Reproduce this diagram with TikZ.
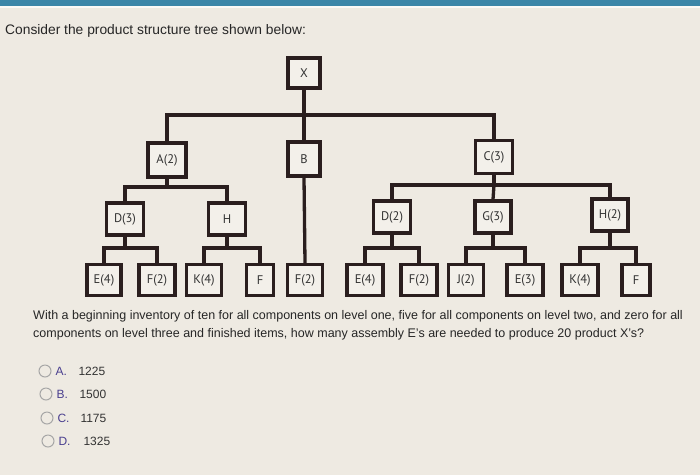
\documentclass[tikz,border=0pt]{standalone}
\usepackage{fontspec}
\setmainfont{Liberation Sans}
\newfontfamily\boxfont{PT Sans}
\begin{document}
\begin{tikzpicture}[x=1pt,y=-1pt,
  part/.style={draw=boxline,line width=3.2pt,fill=boxfill,inner sep=0pt,minimum height=31pt,font=\boxfont\fontsize{12.5}{14}\selectfont,text=black!80},
  link/.style={draw=boxline,line width=3.3pt,line join=miter},
  opt/.style={circle,draw=gray!70,line width=1pt,minimum size=12pt,inner sep=0pt},
  letter/.style={anchor=west,text=optblue,font=\fontsize{12}{14}\selectfont},
  num/.style={anchor=west,text=black!80,font=\fontsize{12}{14}\selectfont},
  txt/.style={anchor=west,text=black!85,inner sep=0pt}]
\definecolor{bg}{HTML}{EEEAE2}
\definecolor{topbar}{HTML}{3B86A8}
\definecolor{boxline}{HTML}{2A1E1E}
\definecolor{boxfill}{HTML}{F3F0EA}
\definecolor{optblue}{HTML}{4A3F8F}
\useasboundingbox (0,0) rectangle (700,475);
\fill[bg] (0,0) rectangle (700,475);
\fill[topbar] (0,0) rectangle (700,6);
\fill[white!70!bg] (0,6) rectangle (700,8);

\node[txt,font=\fontsize{13.8}{16}\selectfont] (title) at (5,31) {Consider the product structure tree shown below:};

% level 0
\node[part,minimum width=32pt,minimum height=30pt] (X) at (304,73) {X};
% level 1
\node[part,minimum width=38pt,minimum height=34pt] (A2) at (167,160) {A(2)};
\node[part,minimum width=32pt,minimum height=34pt] (B) at (304,159) {B};
\node[part,minimum width=37pt,minimum height=33pt] (C3) at (494,157) {C(3)};
% level 2
\node[part,minimum width=37pt,minimum height=32pt] (D3) at (125,219) {D(3)};
\node[part,minimum width=37pt,minimum height=32pt] (H) at (227,219) {H};
\node[part,minimum width=37pt,minimum height=32pt] (D2) at (392,217) {D(2)};
\node[part,minimum width=36pt,minimum height=32pt] (G3) at (493,217) {G(3)};
\node[part,minimum width=36pt,minimum height=32pt] (H2) at (610,215) {H(2)};
% level 3
\node[part,minimum width=34pt] (E4a) at (104,280) {E(4)};
\node[part,minimum width=36pt] (F2a) at (157,280) {F(2)};
\node[part,minimum width=35pt] (K4a) at (204,280) {K(4)};
\node[part,minimum width=27pt] (Fa) at (260,280) {F};
\node[part,minimum width=35pt] (F2b) at (305,280) {F(2)};
\node[part,minimum width=36pt] (E4b) at (365,280) {E(4)};
\node[part,minimum width=36pt] (F2c) at (419,280) {F(2)};
\node[part,minimum width=35pt] (J2) at (466,280) {J(2)};
\node[part,minimum width=36pt] (E3) at (525,280) {E(3)};
\node[part,minimum width=36pt] (K4b) at (580,280) {K(4)};
\node[part,minimum width=28pt] (Fb) at (636,280) {F};

% bus coordinates
\coordinate (bus0) at (0,115);
\coordinate (busA) at (0,187);
\coordinate (busC) at (0,185);
\coordinate (bus3) at (0,248);

% connectors
\draw[link] (X.south) -- (B.north);
\draw[link] (X.south |- bus0) -| (A2.north);
\draw[link] (X.south |- bus0) -| (C3.north);

\draw[link] (A2.south) -- (A2.south |- busA) -| (D3.north);
\draw[link] (A2.south |- busA) -| (H.north);
\draw[link] (C3.south) -- (C3.south |- busC) -| (D2.north);
\draw[link] (C3.south |- busC) -- (G3.north);
\draw[link] (C3.south |- busC) -| (H2.north);

\draw[link] (D3.south) -- (D3.south |- bus3) -| (E4a.north);
\draw[link] (D3.south |- bus3) -| (F2a.north);
\draw[link] (H.south) -- (H.south |- bus3) -| (K4a.north);
\draw[link] (H.south |- bus3) -| (Fa.north);
\draw[link] (B.south) -- (F2b.north);
\draw[link] (D2.south) -- (D2.south |- bus3) -| (E4b.north);
\draw[link] (D2.south |- bus3) -| (F2c.north);
\draw[link] (G3.south) -- (G3.south |- bus3) -| (J2.north);
\draw[link] (G3.south |- bus3) -| (E3.north);
\draw[link] (H2.south) -- (H2.south |- bus3) -| (K4b.north);
\draw[link] (H2.south |- bus3) -| (Fb.north);

% question
\node[txt,font=\fontsize{12.5}{14}\selectfont] (q1) at (33,316) {With a beginning inventory of ten for all components on level one, five for all components on level two, and zero for all};
\node[txt,font=\fontsize{12.5}{14}\selectfont] (q2) at (33,334) {components on level three and finished items, how many assembly E's are needed to produce 20 product X's?};

% options
\node[opt] (oA) at (45,371) {};
\node[letter] (lA) at (52,371) {A.};
\node[num] (nA) at (75,371) {1225};
\node[opt] (oB) at (46,394) {};
\node[letter] (lB) at (53,394) {B.};
\node[num] (nB) at (76,394) {1500};
\node[opt] (oC) at (47,418) {};
\node[letter] (lC) at (54,418) {C.};
\node[num] (nC) at (77,418) {1175};
\node[opt] (oD) at (48,441) {};
\node[letter] (lD) at (55,441) {D.};
\node[num] (nD) at (80,441) {1325};
\end{tikzpicture}
\end{document}
